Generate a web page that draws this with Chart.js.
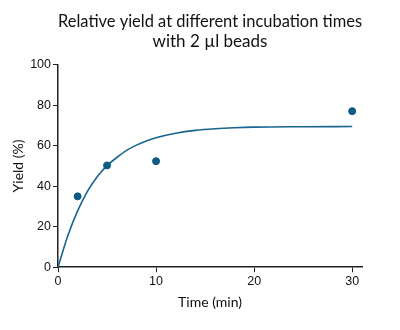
<!DOCTYPE html>
<html>
<head>
<meta charset="utf-8">
<script src="https://cdn.jsdelivr.net/npm/chart.js@4"></script>
<style>
    html, body { margin: 0; padding: 0; background: #fff; }
    #wrap { width: 400px; height: 330px; }
</style>
</head>
<body>
<div id="wrap"><canvas id="yieldChart"></canvas></div>
<script>
// Measured points
const timeMin = [2, 5, 10, 30];
const yieldPct = [35, 50.3, 52.4, 77.1];

// Fitted curve
const fitTime = [0, 1, 2, 3, 4, 5, 6, 7, 8, 9, 10, 12, 14, 16, 18, 20, 25, 30];
const fitYield = [0, 15.5, 27.8, 37.5, 44.7, 50.2, 54.2, 57.7, 60.3, 62.4, 64.0, 66.2, 67.6, 68.4, 68.9, 69.2, 69.4, 69.5];

const titleLines = ['Relative yield at different incubation times', 'with 2 \u00b5l beads'];

const dotColor = '#0d5a85';
const lineColor = '#17648f';
const axisColor = '#222';

const ctx = document.getElementById('yieldChart').getContext('2d');
const yieldChart = new Chart(ctx, {
    type: 'scatter',
    data: {
        datasets: [
            {
                label: 'Yield',
                data: timeMin.map((t, i) => ({ x: t, y: yieldPct[i] })),
                backgroundColor: dotColor,
                borderColor: dotColor,
                pointRadius: 3.5,
                showLine: false
            },
            {
                label: 'Fit',
                data: fitTime.map((t, i) => ({ x: t, y: fitYield[i] })),
                borderColor: lineColor,
                borderWidth: 1.6,
                pointRadius: 0,
                showLine: true,
                cubicInterpolationMode: 'monotone'
            }
        ]
    },
    options: {
        responsive: true,
        maintainAspectRatio: false,
        animation: false,
        layout: {
            padding: { left: 10, right: 38, top: 11, bottom: 19 }
        },
        scales: {
            x: {
                type: 'linear',
                min: 0,
                max: 31,
                border: { color: axisColor, width: 1.5 },
                grid: {
                    drawOnChartArea: false,
                    drawTicks: true,
                    tickLength: 5,
                    color: axisColor
                },
                ticks: {
                    stepSize: 10,
                    includeBounds: false,
                    color: '#111',
                    padding: 2,
                    maxRotation: 0,
                    font: { family: 'Liberation Sans', size: 12.5 }
                },
                title: {
                    display: true,
                    text: 'Time (min)',
                    color: '#111',
                    padding: { top: 3, bottom: 0 },
                    font: { family: 'Lato', size: 14 }
                }
            },
            y: {
                min: 0,
                max: 100,
                border: { color: axisColor, width: 1.5 },
                grid: {
                    drawOnChartArea: false,
                    drawTicks: true,
                    tickLength: 5,
                    color: axisColor
                },
                ticks: {
                    stepSize: 20,
                    color: '#111',
                    padding: 2,
                    font: { family: 'Liberation Sans', size: 12.5 }
                },
                title: {
                    display: true,
                    text: 'Yield (%)',
                    color: '#111',
                    padding: { top: 0, bottom: 4 },
                    font: { family: 'Lato', size: 14 }
                },
                afterFit: function (scale) {
                    scale.width = 48;
                }
            }
        },
        plugins: {
            legend: { display: false },
            tooltip: { enabled: false },
            title: {
                display: true,
                fullSize: false,
                text: titleLines,
                color: '#111',
                padding: { top: 0, bottom: 13 },
                font: { family: 'Lato', size: 17, weight: 'normal', lineHeight: 1.2 }
            }
        }
    }
});
</script>
</body>
</html>
